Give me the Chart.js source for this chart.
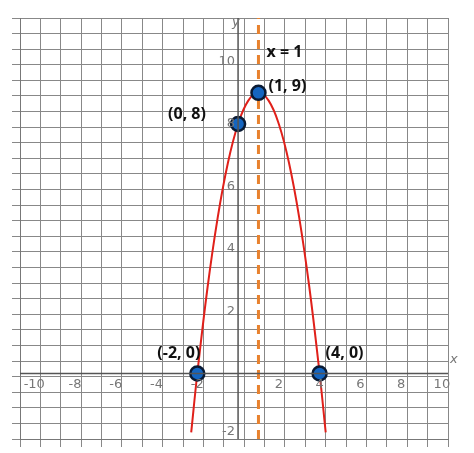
<!DOCTYPE html>
<html><head><meta charset="utf-8">
<script src="https://cdn.jsdelivr.net/npm/chart.js@4"></script>
<style>html,body{margin:0;padding:0;background:#fff}#w{width:474px;height:453px}</style>
</head><body><div id="w"><canvas id="c"></canvas></div>
<script>
const curveX=[-2.3,-2,-1.5,-1,-0.5,0,0.5,1,1.5,2,2.5,3,3.5,4,4.3];
const curveY=[-1.89,0,2.75,5,6.75,8,8.75,9,8.75,8,6.75,5,2.75,0,-1.89];
const ptX=[-2,0,1,4];
const ptY=[0,8,9,0];
const ptLabels=['(-2, 0)','(0, 8)','(1, 9)','(4, 0)'];
const axisLine=1;
const tickVals=[-10,-8,-6,-4,-2,2,4,6,8,10];
const yTickVals=[2,4,6,8,10];

const labelPlugin={id:'lbl',afterDraw(ch){
 const c=ch.ctx,xs=ch.scales.x,ys=ch.scales.y;
 c.save();
 c.strokeStyle='#555';c.lineWidth=1.5;
 c.beginPath();c.moveTo(xs.left,ys.getPixelForValue(0));c.lineTo(xs.right,ys.getPixelForValue(0));
 c.moveTo(xs.getPixelForValue(0),ys.top);c.lineTo(xs.getPixelForValue(0),ys.bottom);c.stroke();
 c.fillStyle='#777';c.font='13px "DejaVu Sans"';c.textAlign='center';c.textBaseline='top';
 tickVals.forEach(v=>c.fillText(String(v),xs.getPixelForValue(v),ys.getPixelForValue(0)+5));
 c.textAlign='right';c.textBaseline='middle';
 yTickVals.forEach(v=>c.fillText(String(v),xs.getPixelForValue(0)-3,ys.getPixelForValue(v)));
 c.fillText('-2',xs.getPixelForValue(0)-3,ys.getPixelForValue(-2)-4);
 c.font='italic 13px "DejaVu Sans"';c.textAlign='left';
 c.fillText('x',xs.getPixelForValue(10.4),ys.getPixelForValue(0)-14);
 c.fillText('y',xs.getPixelForValue(-0.3),ys.top+5);
 c.fillStyle='#111';c.font='bold 16px "Open Sans"';
 c.fillText('x = 1',xs.getPixelForValue(1.4),ys.getPixelForValue(10.3));
 const off=[[-40,-20],[-70,-10],[10,-6],[6,-20]];
 ptLabels.forEach((t,i)=>c.fillText(t,xs.getPixelForValue(ptX[i])+off[i][0],ys.getPixelForValue(ptY[i])+off[i][1]));
 c.restore();
}};

new Chart(document.getElementById('c'),{
 type:'scatter',
 data:{datasets:[
  {data:ptX.map((x,i)=>({x,y:ptY[i]})),pointRadius:7,backgroundColor:'#1565c0',borderColor:'#0a1a33',borderWidth:2.5,order:0},
  {type:'line',data:curveX.map((x,i)=>({x,y:curveY[i]})),borderColor:'#e0201a',borderWidth:2,pointRadius:0,tension:0.4,fill:false,order:1},
  {type:'line',data:[{x:axisLine,y:-2.1},{x:axisLine,y:11.4}],borderColor:'#e8822e',borderWidth:3,borderDash:[9,6],pointRadius:0,order:2}
 ]},
 options:{animation:false,responsive:true,maintainAspectRatio:false,
  layout:{padding:{left:12,right:26,top:18,bottom:6}},
  plugins:{legend:{display:false},tooltip:{enabled:false}},
  scales:{
   x:{type:'linear',min:-10.7,max:10.3,ticks:{display:false,stepSize:1},grid:{color:'#888',lineWidth:1},border:{display:true,color:'#777'}},
   y:{type:'linear',min:-2.1,max:11.4,ticks:{display:false,stepSize:0.5},grid:{color:'#888',lineWidth:1},border:{display:true,color:'#777'}}
  }},
 plugins:[labelPlugin]
});
</script></body></html>
